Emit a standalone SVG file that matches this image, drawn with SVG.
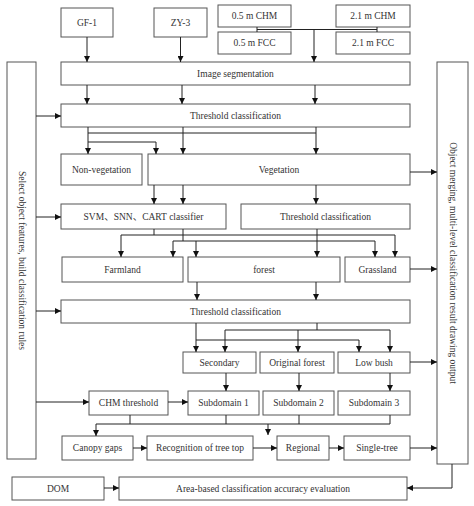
<svg xmlns="http://www.w3.org/2000/svg" width="474" height="506" viewBox="0 0 474 506">
<defs>
<marker id="ah" viewBox="0 0 8 8" refX="8" refY="4" markerWidth="6" markerHeight="6" markerUnits="userSpaceOnUse" orient="auto"><path d="M0,0 L8,4 L0,8 z" fill="#111"/></marker>
<style>
rect{fill:#fff;stroke:#555;stroke-width:1}
text{font-family:"Liberation Serif","Times New Roman","Noto Sans CJK SC",serif;font-size:9.5px;fill:#333;text-anchor:middle;dominant-baseline:central}
.c path{fill:none;stroke:#222;stroke-width:1}
.a{marker-end:url(#ah)}
</style>
</defs>
<rect x="0" y="0" width="474" height="506" style="fill:#fff;stroke:none"/>
<g id="gf1"><rect x="61" y="8" width="52" height="29"/><text x="87" y="22.5">GF-1</text></g>
<g id="zy3"><rect x="154" y="8" width="53" height="29"/><text x="180.5" y="22.5">ZY-3</text></g>
<g id="chm05"><rect x="218" y="5" width="73" height="22"/><text x="254.5" y="16">0.5 m CHM</text></g>
<g id="fcc05"><rect x="218" y="32" width="73" height="22"/><text x="254.5" y="43">0.5 m FCC</text></g>
<g id="chm21"><rect x="336" y="5" width="74" height="22"/><text x="373" y="16">2.1 m CHM</text></g>
<g id="fcc21"><rect x="336" y="32" width="74" height="22"/><text x="373" y="43">2.1 m FCC</text></g>
<g id="seg"><rect x="61" y="62" width="349" height="23"/><text x="235.5" y="73.5">Image segmentation</text></g>
<g id="thr1"><rect x="61" y="104" width="349" height="23"/><text x="235.5" y="115.5">Threshold classification</text></g>
<g id="nonveg"><rect x="61" y="154" width="81" height="31"/><text x="101.5" y="169.5">Non-vegetation</text></g>
<g id="veg"><rect x="148" y="154" width="262" height="31"/><text x="279" y="169.5">Vegetation</text></g>
<g id="svm"><rect x="61" y="204" width="165" height="25"/><text x="143.5" y="216.5">SVM、SNN、CART classifier</text></g>
<g id="thr2"><rect x="241" y="204" width="169" height="25"/><text x="325.5" y="216.5">Threshold classification</text></g>
<g id="farmland"><rect x="62" y="257" width="121" height="25"/><text x="122.5" y="269.5">Farmland</text></g>
<g id="forest"><rect x="188" y="257" width="152" height="25"/><text x="264" y="269.5">forest</text></g>
<g id="grass"><rect x="345" y="257" width="65" height="25"/><text x="377.5" y="269.5">Grassland</text></g>
<g id="thr3"><rect x="61" y="300" width="349" height="23"/><text x="235.5" y="311.5">Threshold classification</text></g>
<g id="secondary"><rect x="183" y="352" width="73" height="21"/><text x="219.5" y="362.5">Secondary</text></g>
<g id="original"><rect x="260" y="352" width="74" height="21"/><text x="297" y="362.5">Original forest</text></g>
<g id="lowbush"><rect x="338" y="352" width="72" height="21"/><text x="374" y="362.5">Low bush</text></g>
<g id="chmthr"><rect x="89" y="391" width="79" height="24"/><text x="128.5" y="403">CHM threshold</text></g>
<g id="sub1"><rect x="188" y="391" width="71" height="24"/><text x="223.5" y="403">Subdomain 1</text></g>
<g id="sub2"><rect x="263" y="391" width="71" height="24"/><text x="298.5" y="403">Subdomain 2</text></g>
<g id="sub3"><rect x="338" y="391" width="72" height="24"/><text x="374" y="403">Subdomain 3</text></g>
<g id="gaps"><rect x="62" y="436" width="71" height="24"/><text x="97.5" y="447.5">Canopy gaps</text></g>
<g id="treetop"><rect x="147" y="436" width="106" height="24"/><text x="200" y="447.5">Recognition of tree top</text></g>
<g id="regional"><rect x="277" y="436" width="52" height="24"/><text x="303" y="447.5">Regional</text></g>
<g id="single"><rect x="344" y="436" width="66" height="24"/><text x="377" y="447.5">Single-tree</text></g>
<g id="dom"><rect x="12" y="477" width="92" height="23"/><text x="58" y="488.5">DOM</text></g>
<g id="area"><rect x="119" y="477" width="288" height="23"/><text x="263" y="488.5">Area-based classification accuracy evaluation</text></g>
<g id="left"><rect x="7" y="62" width="29" height="397"/><text transform="translate(21.5,260.5) rotate(90)">Select object features, build classification rules</text></g>
<g id="right"><rect x="437" y="62" width="31" height="402"/><text transform="translate(452.5,263) rotate(90)">Object merging, multi-level classification result drawing output</text></g>
<g class="c">
<path class="a" d="M87,37 V62"/>
<path class="a" d="M180.5,37 V62"/>
<path d="M257,27 V32 M377,27 V32 M257,29.5 H377"/>
<path class="a" d="M314,29.5 V62"/>
<path class="a" d="M87,85 V104"/>
<path class="a" d="M182,85 V104"/>
<path class="a" d="M315,85 V104"/>
<path class="a" d="M36,116 H61"/>
<path d="M88,127 V133 M183,127 V133 M316,127 V133 M88,133 H316"/>
<path class="a" d="M88,133 V154"/>
<path class="a" d="M88,142 H156 V154"/>
<path class="a" d="M183,133 V154"/>
<path class="a" d="M316,133 V154"/>
<path class="a" d="M410,172 H437"/>
<path class="a" d="M36,217 H61"/>
<path class="a" d="M154,185 V204"/>
<path class="a" d="M183,185 V204"/>
<path class="a" d="M316,185 V204"/>
<path d="M154,229 V235 M121,235 H395"/>
<path class="a" d="M121,235 V257"/>
<path class="a" d="M395,235 V257"/>
<path d="M183,229 V241 M173,241 H375"/>
<path class="a" d="M173,241 V257"/>
<path class="a" d="M196,241 V257"/>
<path class="a" d="M375,241 V257"/>
<path class="a" d="M317,229 V257"/>
<path class="a" d="M410,269 H437"/>
<path class="a" d="M197,282 V300"/>
<path class="a" d="M316,282 V300"/>
<path class="a" d="M36,311 H61"/>
<path class="a" d="M196,323 V352"/>
<path d="M317,323 V330 M225,330 H390"/>
<path class="a" d="M225,330 V352"/>
<path class="a" d="M298,330 V352"/>
<path class="a" d="M390,330 V352"/>
<path class="a" d="M196,340 H359 V352"/>
<path class="a" d="M410,362 H437"/>
<path class="a" d="M226,373 V391"/>
<path class="a" d="M299,373 V391"/>
<path class="a" d="M390,373 V391"/>
<path class="a" d="M36,402 H89"/>
<path class="a" d="M168,402 H188"/>
<path d="M130,415 V424 M226,415 V424 M299,415 V424 M390,415 V424 M96,424 H390"/>
<path class="a" d="M96,424 V436"/>
<path class="a" d="M268,424 V435"/>
<path class="a" d="M133,448 H147"/>
<path class="a" d="M253,448 H277"/>
<path class="a" d="M329,448 H344"/>
<path class="a" d="M410,448 H437"/>
<path class="a" d="M104,488 H119"/>
<path class="a" d="M452,464 V488 H407"/>
</g>
</svg>
